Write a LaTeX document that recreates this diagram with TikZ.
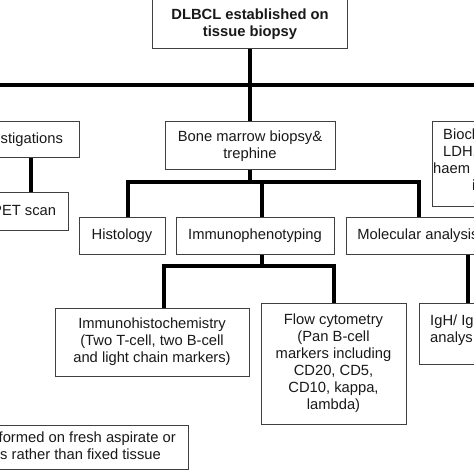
\documentclass[tikz,border=0pt]{standalone}
\usepackage{fontspec}
\setmainfont{Liberation Sans}
\begin{document}
\begin{tikzpicture}[x=1bp,y=-1bp,
  every node/.style={font=\fontsize{14.8}{17}\selectfont, text=black!90},
  box/.style={draw=black!75, line width=1bp, fill=white, inner sep=0, align=center},
  frag/.style={inner sep=0, anchor=west, text height=10.6bp, text depth=3.1bp},
  conn/.style={line width=4bp, line join=miter}]
\useasboundingbox (0,0) rectangle (474,474);
\clip (0,0) rectangle (474,474);
\fill[white] (0,0) rectangle (474,474);

% boxes
\node[box, minimum width=195bp, minimum height=50bp, font=\fontsize{14.8}{17}\selectfont\bfseries] (top) at (250,24) {DLBCL established on\\tissue biopsy};
\node[box, minimum width=119bp, minimum height=36bp] (inv) at (19.5,140) {};
\node[box, minimum width=108bp, minimum height=37bp] (pet) at (14,211.5) {};
\node[box, minimum width=170bp, minimum height=48bp] (bm) at (250,146) {Bone marrow biopsy\&\\trephine};
\node[box, minimum width=128bp, minimum height=84bp] (bio) at (496,164) {};
\node[box, minimum width=86bp, minimum height=36bp] (hist) at (122,236) {Histology};
\node[box, minimum width=158bp, minimum height=36bp] (immuno) at (255,236) {Immunophenotyping};
\node[box, minimum width=144bp, minimum height=36bp] (mol) at (418,236) {Molecular analysis};
\node[box, minimum width=194bp, minimum height=68bp] (ihc) at (152,342) {Immunohistochemistry\\(Two T-cell, two B-cell\\and light chain markers)};
\node[box, minimum width=145bp, minimum height=121bp] (flow) at (333.5,363.5) {Flow cytometry\\(Pan B-cell\\markers including\\CD20, CD5,\\CD10, kappa,\\lambda)};
\node[box, minimum width=141bp, minimum height=61bp] (igh) at (489.5,333.5) {};
\node[box, minimum width=228bp, minimum height=44bp] (note) at (74,447) {};

% text fragments of cut boxes
\node[frag] (invt) at (0.5,140) {stigations};
\node[frag] (pett) at (-8,211.5) {PET scan};
\node[frag] (bio1) at (443,136) {Bioch};
\node[frag] (bio2) at (443,153) {LDH,};
\node[frag] (bio3) at (433,170) {haem};
\node[frag] (bio4) at (472,187) {i};
\node[frag] (igh1) at (430,322) {IgH/ Ig};
\node[frag] (igh2) at (430,339) {analys};
\node[frag] (note1) at (-1.5,439) {formed on fresh aspirate or};
\node[frag] (note2) at (0,456) {s rather than fixed tissue};

% connectors
\coordinate (busL) at (-5,85);
\coordinate (busR) at (479,85);
\draw[conn] (busL) -- (busR);
\draw[conn] (top.south) -- (bm.north);
\draw[conn] (31,0 |- inv.south) -- (31,0 |- pet.north);

\coordinate (sbL) at (128,182);
\coordinate (sbR) at (419,182);
\draw[conn] (bm.south) -- (250,0 |- sbL);
\draw[conn] (128,0 |- hist.north) -- (sbL) -- (sbR) -- (419,0 |- mol.north);
\draw[conn] (262,0 |- sbL) -- (262,0 |- immuno.north);

\coordinate (ibL) at (164,266);
\coordinate (ibR) at (334,266);
\draw[conn] (262,0 |- immuno.south) -- (262,0 |- ibL);
\draw[conn] (164,0 |- ihc.north) -- (ibL) -- (ibR) -- (334,0 |- flow.north);

\draw[conn] (468,0 |- mol.south) -- (468,0 |- igh.north);
\end{tikzpicture}
\end{document}
